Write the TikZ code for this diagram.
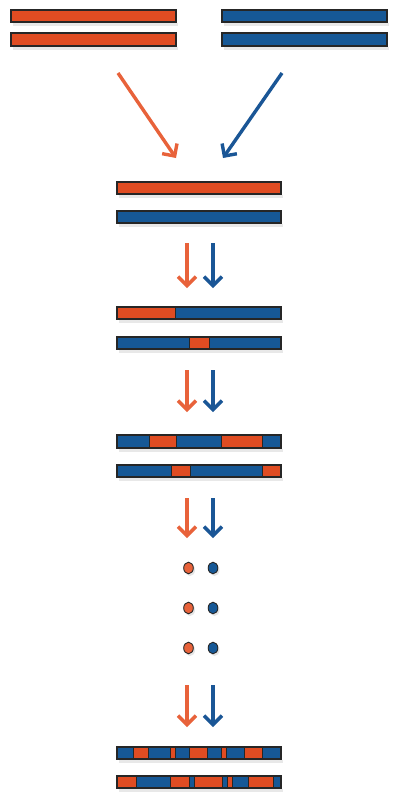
\documentclass[tikz,border=0pt]{standalone}
\usetikzlibrary{arrows.meta,shadows}
\definecolor{orng}{RGB}{224,76,34}
\definecolor{blu}{RGB}{22,88,150}
\definecolor{aorng}{RGB}{232,98,58}
\definecolor{ablu}{RGB}{26,86,150}
\tikzset{
  outl/.style={draw=black!85,line width=1.1pt},
  shad/.style={fill=black!25,opacity=0.35},
  arr/.style={line width=3.4pt,-{Straight Barb[length=9pt,width=18pt,line width=3.4pt]}},
  dotst/.style={draw=black!85,line width=0.9pt},
}
% \segbar{y1}{y2}{x0/x1/color,...}
\newcommand{\segbar}[3]{%
  \fill[shad] (117+1.5,#2+1) rectangle (281+1.5,#2+3.5);
  \foreach \a/\b/\c in {#3} { \fill[\c] (\a,#1) rectangle (\b,#2); \draw[black!85,line width=0.9pt] (\a,#1) -- (\a,#2); }
  \draw[outl] (117,#1) rectangle (281,#2);
}
\begin{document}
\begin{tikzpicture}[x=1pt,y=-1pt]
\useasboundingbox (0,0) rectangle (400,804);
\fill[white] (0,0) rectangle (400,804);
% top bars
\foreach \ya/\yb in {10/22,33/46}{
  \fill[shad] (12.5,\yb+1) rectangle (177.5,\yb+3.5);
  \fill[shad] (223.5,\yb+1) rectangle (388.5,\yb+3.5);
  \fill[orng] (11,\ya) rectangle (176,\yb); \draw[outl] (11,\ya) rectangle (176,\yb);
  \fill[blu] (222,\ya) rectangle (387,\yb); \draw[outl] (222,\ya) rectangle (387,\yb);
}
% diagonal arrows
\coordinate (os) at (118,73); \coordinate (oe) at (176,158);
\coordinate (bs) at (282,73); \coordinate (be) at (223,158);
\draw[arr,aorng] (os) -- (oe);
\draw[arr,ablu] (bs) -- (be);
% row 2
\segbar{182}{194}{117/281/orng}
\segbar{211}{223}{117/281/blu}
% row 3
\segbar{307}{319}{117/175/orng,175/281/blu}
\segbar{337}{349}{117/189/blu,189/209/orng,209/281/blu}
% row 4
\segbar{435}{448}{117/149/blu,149/176/orng,176/221/blu,221/262/orng,262/281/blu}
\segbar{465}{477}{117/171/blu,171/190/orng,190/262/blu,262/281/orng}
% row 5
\segbar{747}{759}{117/133/blu,133/148/orng,148/170/blu,170/175/orng,175/189/blu,189/207/orng,207/221/blu,221/226/orng,226/244/blu,244/262/orng,262/281/blu}
\segbar{776}{788}{117/136/orng,136/170/blu,170/189/orng,189/194/blu,194/222/orng,222/227/blu,227/232/orng,232/248/blu,248/273/orng,273/281/blu}
% small arrows
\foreach \ya/\yb [count=\i] in {243/288,370/412,498/538,685/727}{
  \coordinate (oa\i) at (187,\ya); \coordinate (ob\i) at (187,\yb);
  \coordinate (ba\i) at (213,\ya); \coordinate (bb\i) at (213,\yb);
  \draw[arr,aorng] (oa\i) -- (ob\i);
  \draw[arr,ablu] (ba\i) -- (bb\i);
}
% dots
\foreach \y in {568,608,648}{
  \fill[black!25,opacity=0.4] (190,\y+2) ellipse (5 and 6);
  \draw[dotst,fill=aorng] (188.5,\y) ellipse (4.8 and 5.8);
  \fill[black!25,opacity=0.4] (214.5,\y+2) ellipse (5 and 6);
  \draw[dotst,fill=blu] (213,\y) ellipse (4.8 and 5.8);
}
\end{tikzpicture}
\end{document}
